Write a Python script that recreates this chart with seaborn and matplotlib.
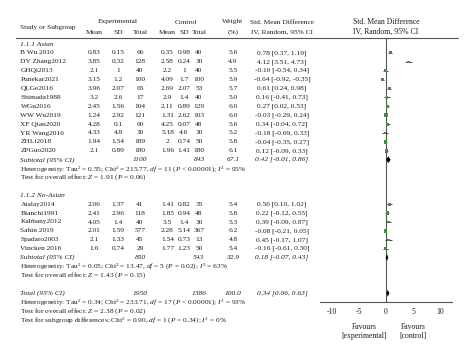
import matplotlib
matplotlib.use('Agg')
import matplotlib.pyplot as plt
import seaborn as sns
import pandas as pd

# ── data ─────────────────────────────────────────────────────
asian_names = ["B Wu 2010", "DY Zhang2012", "GHQi2013", "Punekar2021", "QLGe2016",
               "Shimada1988", "WGu2016", "WW Wu2019", "XF Qian2020", "YR Wang2016",
               "ZHLi2018", "ZPGuo2020"]
asian_exp_mean = ["0.83", "3.85", "2.1", "3.15", "3.96", "3.2", "2.45", "1.24", "4.28", "4.33", "1.94", "2.1"]
asian_exp_sd = ["0.15", "0.32", "1", "1.2", "2.07", "2.6", "1.56", "2.92", "0.1", "4.8", "1.54", "0.89"]
asian_exp_n = [66, 128, 40, 100, 65, 17, 104, 121, 60, 30, 189, 180]
asian_ctl_mean = ["0.35", "2.58", "2.2", "4.09", "2.69", "2.9", "2.11", "1.31", "4.25", "5.18", "2", "1.96"]
asian_ctl_sd = ["0.98", "0.24", "1", "1.7", "2.07", "1.4", "0.89", "2.62", "0.07", "4.6", "0.74", "1.41"]
asian_ctl_n = [40, 30, 40, 100, 53, 40, 129, 103, 48, 30, 50, 180]
asian_weight = [5.6, 4.9, 5.5, 5.9, 5.7, 5.0, 6.0, 6.0, 5.6, 5.2, 5.8, 6.1]
asian_smd = [0.78, 4.12, -0.10, -0.64, 0.61, 0.16, 0.27, -0.03, 0.34, -0.18, -0.04, 0.12]
asian_lo = [0.37, 3.51, -0.54, -0.92, 0.24, -0.41, 0.02, -0.29, -0.04, -0.69, -0.35, -0.09]
asian_hi = [1.19, 4.73, 0.34, -0.35, 0.98, 0.73, 0.53, 0.24, 0.72, 0.33, 0.27, 0.33]

nonasian_names = ["Atalay2014", "Bianchi1991", "Kabbany2012", "Sahin 2019", "Spadaro2003", "Vincken 2016"]
nonasian_exp_mean = ["2.06", "2.41", "4.05", "2.01", "2.1", "1.6"]
nonasian_exp_sd = ["1.37", "2.96", "1.4", "1.59", "1.33", "0.74"]
nonasian_exp_n = [41, 118, 40, 577, 45, 29]
nonasian_ctl_mean = ["1.41", "1.85", "3.5", "2.28", "1.54", "1.77"]
nonasian_ctl_sd = ["0.82", "0.94", "1.4", "5.14", "0.73", "1.23"]
nonasian_ctl_n = [35, 48, 30, 367, 13, 50]
nonasian_weight = [5.4, 5.8, 5.3, 6.2, 4.8, 5.4]
nonasian_smd = [0.56, 0.22, 0.39, -0.08, 0.45, -0.16]
nonasian_lo = [0.10, -0.12, -0.09, -0.21, -0.17, -0.61]
nonasian_hi = [1.02, 0.55, 0.87, 0.05, 1.07, 0.30]

# pooled: subtotal asian, subtotal non-asian, total
pooled_exp_n = [1100, 850, 1950]
pooled_ctl_n = [843, 543, 1386]
pooled_weight = ["67.1", "32.9", "100.0"]
pooled_smd = [0.42, 0.18, 0.34]
pooled_lo = [-0.01, -0.07, 0.06]
pooled_hi = [0.86, 0.43, 0.63]

het_lines = [r"Heterogeneity: Tau$^2$ = 0.55; Chi$^2$ = 215.77, $\mathit{df}$ = 11 ($\mathit{P}$ < 0.00001); $\mathit{I}^2$ = 95%",
             r"Heterogeneity: Tau$^2$ = 0.05; Chi$^2$ = 13.47, $\mathit{df}$ = 5 ($\mathit{P}$ = 0.02); $\mathit{I}^2$ = 63%",
             r"Heterogeneity: Tau$^2$ = 0.34; Chi$^2$ = 233.71, $\mathit{df}$ = 17 ($\mathit{P}$ < 0.00001); $\mathit{I}^2$ = 93%"]
effect_lines = [r"Test for overall effect: $\mathit{Z}$ = 1.91 ($\mathit{P}$ = 0.06)",
                r"Test for overall effect: $\mathit{Z}$ = 1.43 ($\mathit{P}$ = 0.15)",
                r"Test for overall effect: $\mathit{Z}$ = 2.38 ($\mathit{P}$ = 0.02)"]
subgroup_line = r"Test for subgroup differences: Chi$^2$ = 0.90, $\mathit{df}$ = 1 ($\mathit{P}$ = 0.34); $\mathit{I}^2$ = 0%"
x_ticks = [-10, -5, 0, 5, 10]

# ── style ────────────────────────────────────────────────────
sns.set_style("white")
plt.rcParams['font.family'] = ['Liberation Serif', 'DejaVu Serif']
plt.rcParams['mathtext.fontset'] = 'custom'
plt.rcParams['mathtext.rm'] = 'Liberation Serif'
plt.rcParams['mathtext.it'] = 'Liberation Serif:italic'
TXT = '#1e1e1e'
FS = 5.3

W, H = 474, 353
fig = plt.figure(figsize=(W / 100, H / 100), dpi=100)

# table layer in pixel coordinates
tab = fig.add_axes([0, 0, 1, 1])
tab.set_xlim(0, W)
tab.set_ylim(H, 0)
tab.axis('off')

ROW0, STEP = 44.0, 8.9
def ry(r):
    return ROW0 + STEP * r

COLS = {'name': 20.5, 'em': 94, 'esd': 118, 'en': 140, 'cm': 167.5, 'csd': 184,
        'cn': 199, 'w': 233, 'ci': 282}

def t(x, y, s, ha='center', italic=False, fs=FS):
    tab.text(x, y, s, ha=ha, va='center', fontsize=fs, color=TXT,
             style='italic' if italic else 'normal')

def ci_str(m, lo, hi):
    f = lambda v: f"{v:.2f}"
    return f"{f(m)} [{f(lo)}, {f(hi)}]"

# header
t(COLS['name'], 27, "Study or Subgroup", ha='left')
t(COLS['esd'], 22, "Experimental")
t(186, 22, "Control")
t(COLS['w'], 22, "Weight")
t(COLS['w'], 32, "(%)")
t(COLS['ci'], 22, "Std. Mean Difference")
t(COLS['ci'], 32, "IV, Random, 95% CI")
t(386, 22, "Std. Mean Difference", fs=5.6)
t(386, 32, "IV, Random, 95% CI", fs=5.6)
for key, lab in [('em', 'Mean'), ('esd', 'SD'), ('en', 'Total'),
                 ('cm', 'Mean'), ('csd', 'SD'), ('cn', 'Total')]:
    t(COLS[key], 32, lab)
tab.plot([16, 458], [38, 38], color='#555555', lw=0.8)

groups = [
    ("1.1.1 Asian", asian_names, asian_exp_mean, asian_exp_sd, asian_exp_n,
     asian_ctl_mean, asian_ctl_sd, asian_ctl_n, asian_weight, asian_smd, asian_lo, asian_hi),
    ("1.1.2 No-Asian", nonasian_names, nonasian_exp_mean, nonasian_exp_sd, nonasian_exp_n,
     nonasian_ctl_mean, nonasian_ctl_sd, nonasian_ctl_n, nonasian_weight, nonasian_smd,
     nonasian_lo, nonasian_hi),
]

study_rows = []
pooled_rows = []
r = 0
for gi, (title, names, em, esd, en, cm, csd, cn, w, smd, lo, hi) in enumerate(groups):
    t(COLS['name'], ry(r), title, ha='left', italic=True)
    r += 1
    for i in range(len(names)):
        y = ry(r)
        t(COLS['name'], y, names[i], ha='left')
        t(COLS['em'], y, em[i]); t(COLS['esd'], y, esd[i]); t(COLS['en'], y, str(en[i]))
        t(COLS['cm'], y, cm[i]); t(COLS['csd'], y, csd[i]); t(COLS['cn'], y, str(cn[i]))
        t(COLS['w'], y, f"{w[i]:.1f}")
        t(COLS['ci'], y, ci_str(smd[i], lo[i], hi[i]))
        study_rows.append(dict(row=r, smd=smd[i], lo=lo[i], hi=hi[i], weight=w[i]))
        r += 1
    y = ry(r)
    t(COLS['name'], y, "Subtotal (95% CI)", ha='left', italic=True)
    t(COLS['en'], y, str(pooled_exp_n[gi]), italic=True)
    t(COLS['cn'], y, str(pooled_ctl_n[gi]), italic=True)
    t(COLS['w'], y, pooled_weight[gi], italic=True)
    t(COLS['ci'], y, ci_str(pooled_smd[gi], pooled_lo[gi], pooled_hi[gi]), italic=True)
    pooled_rows.append(r)
    r += 1
    t(COLS['name'], ry(r), het_lines[gi], ha='left'); r += 1
    t(COLS['name'], ry(r), effect_lines[gi], ha='left'); r += 2

y = ry(r)
t(COLS['name'], y, "Total (95% CI)", ha='left', italic=True)
t(COLS['en'], y, str(pooled_exp_n[2]), italic=True)
t(COLS['cn'], y, str(pooled_ctl_n[2]), italic=True)
t(COLS['w'], y, pooled_weight[2], italic=True)
t(COLS['ci'], y, ci_str(pooled_smd[2], pooled_lo[2], pooled_hi[2]), italic=True)
pooled_rows.append(r)
t(COLS['name'], ry(r + 1), het_lines[2], ha='left')
t(COLS['name'], ry(r + 2), effect_lines[2], ha='left')
t(COLS['name'], ry(r + 3), subgroup_line, ha='left')

# ── forest panel ─────────────────────────────────────────────
px_left, px_right, px_top, px_bot = 320, 452, 38, 302
ax = fig.add_axes([px_left / W, 1 - px_bot / H, (px_right - px_left) / W, (px_bot - px_top) / H])
ax.patch.set_alpha(0)
ax.set_xlim(-12.2, 12.2)
ax.set_ylim((px_bot - ROW0) / STEP, (px_top - ROW0) / STEP)

df = pd.DataFrame(study_rows)
ax.hlines(df['row'], df['lo'], df['hi'], color='#333333', lw=0.6, zorder=2)
sns.scatterplot(data=df, x='smd', y='row', size='weight', sizes=(3, 7), marker='s',
                color='#3f8f3f', edgecolor='none', legend=False, ax=ax, zorder=3)
for pr, m, lo, hi in zip(pooled_rows, pooled_smd, pooled_lo, pooled_hi):
    ax.fill([lo, m, hi, m], [pr, pr - 0.38, pr, pr + 0.38], color='black', lw=0, zorder=4)
ax.axvline(0, color='#555555', lw=0.8, zorder=1)

for s in ['top', 'right', 'left']:
    ax.spines[s].set_visible(False)
ax.spines['bottom'].set_color('#555555')
ax.spines['bottom'].set_linewidth(0.8)
ax.set_xticks(x_ticks)
ax.set_xticklabels([str(v) for v in x_ticks])
ax.tick_params(axis='x', direction='out', length=2, width=0.6, color='#555555',
               labelsize=5.6, labelcolor=TXT, pad=2)
ax.set_yticks([])
ax.set_xlabel('')
ax.set_ylabel('')

t(364, 327, "Favours", fs=5.6)
t(364, 336, "[experimental]", fs=5.6)
t(413, 327, "Favours", fs=5.6)
t(413, 336, "[control]", fs=5.6)

fig.savefig('out.png', dpi=100)
plt.close(fig)
